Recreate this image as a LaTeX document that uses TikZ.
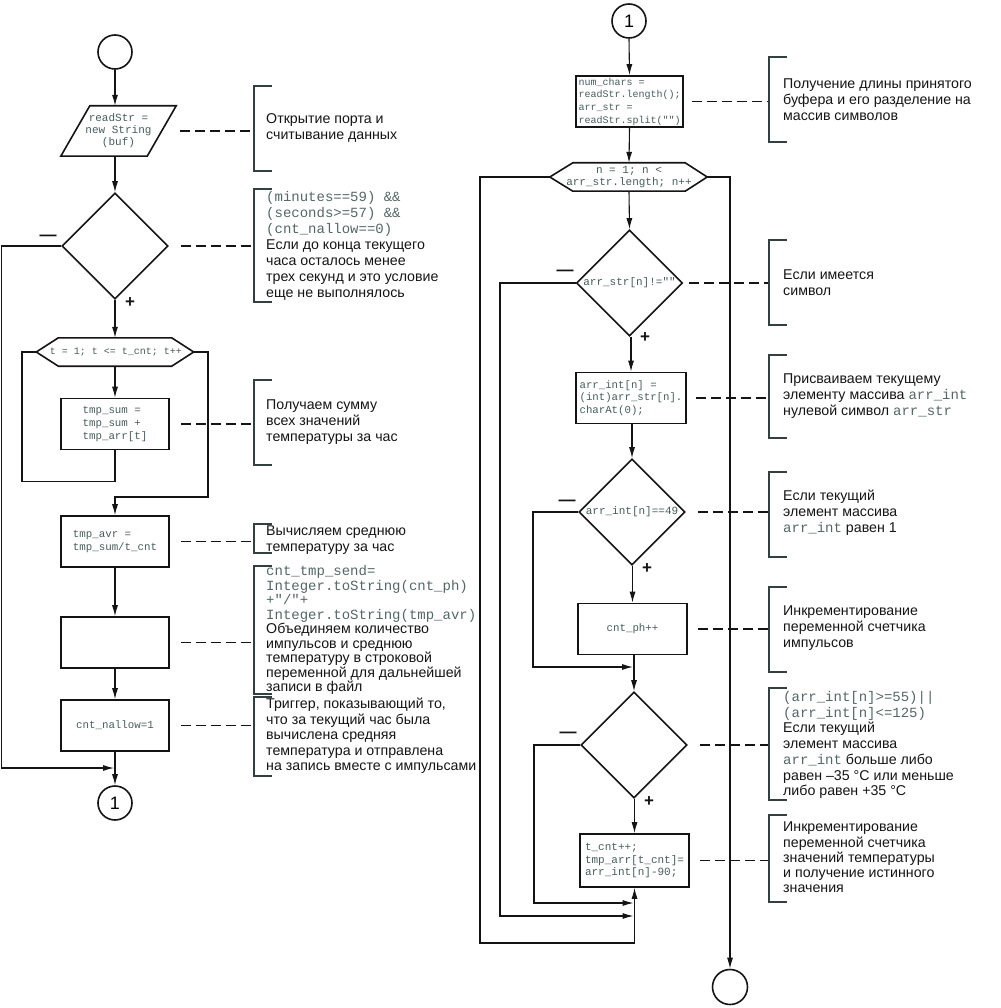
\documentclass[tikz,border=0pt]{standalone}
\usepackage{fontspec}
\setmainfont{Liberation Sans}
\setmonofont{Liberation Mono}
\usetikzlibrary{arrows.meta,shapes.geometric}
\definecolor{codec}{RGB}{72,92,92}
\definecolor{anncode}{RGB}{84,102,102}
\definecolor{brkc}{RGB}{50,64,64}
\definecolor{txtc}{RGB}{20,20,20}
\definecolor{linec}{RGB}{20,20,20}
\newcommand{\cdf}[2]{\fontsize{#1}{#2}\ttfamily}
\newcommand{\ac}[1]{{\fontsize{14}{16}\ttfamily\color{anncode}#1}}
\begin{document}
\begin{tikzpicture}[x=1pt,y=-1pt,
  shp/.style={draw=linec, line width=1.6pt},
  boxn/.style={shp, rectangle, inner sep=0pt, minimum width=#1, minimum height=51pt},
  dia/.style={shp, diamond, aspect=1, inner sep=0pt, minimum width=106pt, minimum height=106pt},
  term/.style={shp, circle, inner sep=0pt, minimum size=34pt, font=\fontsize{18}{18}\selectfont},
  hexb/.style={inner sep=0pt, minimum width=#1, minimum height=28pt},
  code/.style={text=codec, align=left, inner sep=0pt},
  arr/.style={draw=linec, line width=1.1pt, -{Latex[length=11pt,width=6pt]}},
  conn/.style={draw=linec, line width=1.1pt},
  dsh/.style={draw=linec, line width=1.1pt, dash pattern=on 10pt off 5pt},
  brk/.style={draw=brkc, line width=1.3pt},
  ann/.style={anchor=west, inner sep=0pt, align=left, text=txtc, font=\fontsize{14.2}{16}\selectfont},
  sgn/.style={font=\fontsize{17}{17}\selectfont\bfseries, text=linec, inner sep=0pt},
]
\useasboundingbox (0,0) rectangle (1000,1008);

% ================= LEFT COLUMN =================
\node[term] (s1) at (115,52) {};
\node[inner sep=0pt, minimum width=86pt, minimum height=50pt] (p1) at (118.5,131) {};
\draw[shp] ([xshift=14.5pt]p1.north west) -- ([xshift=14.5pt]p1.north east)
  -- ([xshift=-14.5pt]p1.south east) -- ([xshift=-14.5pt]p1.south west) -- cycle;
\node[code, align=center, font=\cdf{11}{12}] (p1t) at (118.5,131) {readStr =\\new String\\(buf)};

\node[dia] (d1) at (115,246) {};
\node[sgn] (m1) at (48,238) {—};
\node[sgn] (q1) at (130,303) {+};

\node[hexb=113pt] (h1) at (115,352) {};
\coordinate (h1w) at ([xshift=-22pt]h1.west);
\coordinate (h1e) at ([xshift=22pt]h1.east);
\draw[shp] (h1.north west) -- (h1.north east) -- (h1e) -- (h1.south east) -- (h1.south west) -- (h1w) -- cycle;
\node[code, font=\cdf{10}{12}] (h1t) at (116,352) {t = 1; t <= t\_cnt; t++};

\node[boxn=108pt, code, font=\cdf{10.8}{13.3}] (b1) at (115,424) {tmp\_sum =\\tmp\_sum +\\tmp\_arr[t]};
\node[boxn=108pt, code, font=\cdf{10.8}{13.3}] (b2) at (115,541.5) {tmp\_avr =\\tmp\_sum/t\_cnt};
\node[boxn=108pt] (b3) at (115,642.5) {};
\node[boxn=108pt, code, font=\cdf{10.8}{13}] (b4) at (115,725.5) {cnt\_nallow=1};
\node[term] (e1) at (115,803) {1};
\coordinate (j1) at (114,768);

\draw[arr] (s1.south) -- (s1.south |- p1.north);
\draw[arr] (p1.south -| d1.north) -- (d1.north);
\draw[arr] (d1.south) -- (h1.north);
\draw[arr] (h1.south) -- (b1.north);
\draw[conn] (b1.south) -- ++(0,31) -| (22,352) -- (h1w);
\draw[arr] (h1e) -| (208,497) -| (b2.north);
\draw[arr] (b2.south) -- (b3.north);
\draw[arr] (b3.south) -- (b4.north);
\draw[arr] (b4.south) -- (e1.north);
\draw[arr] (d1.west) -| (1.5,768) -- (j1);

% left annotations
\coordinate (k1) at (254,131);
\coordinate (k2) at (254,246);
\coordinate (k3) at (254,424);
\coordinate (k4) at (254,541.5);
\coordinate (k5) at (254,642.5);
\coordinate (k6) at (254,725.5);
\draw[dsh] ([xshift=18.5pt]p1.east) -- (k1);
\draw[dsh] ([xshift=12pt]d1.east) -- (k2);
\draw[dsh] ([xshift=11pt]b1.east) -- (k3);
\draw[dsh] ([xshift=11pt]b2.east) -- (k4);
\draw[dsh] ([xshift=11pt]b3.east) -- (k5);
\draw[dsh] ([xshift=11pt]b4.east) -- (k6);

\draw[brk] (272,86) -- (254,86) -- (254,171) -- (272,171);
\draw[brk] (272,189) -- (254,189) -- (254,302) -- (272,302);
\draw[brk] (272,380) -- (254,380) -- (254,465) -- (272,465);
\draw[brk] (272,524) -- (254,524) -- (254,553) -- (272,553);
\draw[brk] (272,566) -- (254,566) -- (254,694) -- (272,694);
\draw[brk] (272,697) -- (254,697) -- (254,776) -- (272,776);

\node[ann] (t1) at (266,127.5) {Открытие порта и\\считывание данных};
\node[ann] (t2) at (266,246) {\ac{(minutes==59) \&\&}\\\ac{(seconds>=57) \&\&}\\\ac{(cnt\_nallow==0)}\\Если до конца текущего\\часа осталось менее\\трех секунд и это условие\\еще не выполнялось};
\node[ann] (t3) at (266,422) {Получаем сумму\\всех значений\\температуры за час};
\node[ann] (t4) at (266,540.5) {Вычисляем среднюю\\температуру за час};
\node[ann, font=\fontsize{14.2}{14.5}\selectfont] (t5) at (266,630) {\ac{cnt\_tmp\_send=}\\\ac{Integer.toString(cnt\_ph)}\\\ac{+"/"+}\\\ac{Integer.toString(tmp\_avr)}\\Объединяем количество\\импульсов и среднюю\\температуру в строковой\\переменной для дальнейшей\\записи в файл};
\node[ann, font=\fontsize{14.2}{15.5}\selectfont] (t6) at (266,736) {Триггер, показывающий то,\\что за текущий час была\\вычислена средняя\\температура и отправлена\\на запись вместе с импульсами};

% ================= RIGHT COLUMN =================
\node[term] (s2) at (629,21) {1};
\node[boxn=107pt, code, font=\cdf{10}{12.7}] (c1) at (629.5,101.5) {num\_chars =\\readStr.length();\\arr\_str =\\readStr.split("")};

\node[hexb=112pt] (h2) at (629,177) {};
\coordinate (h2w) at ([xshift=-23pt]h2.west);
\coordinate (h2e) at ([xshift=22pt]h2.east);
\draw[shp] (h2.north west) -- (h2.north east) -- (h2e) -- (h2.south east) -- (h2.south west) -- (h2w) -- cycle;
\node[code, align=center, font=\cdf{11}{11.5}] (h2t) at (629,177) {n = 1; n <\\arr\_str.length; n++};

\node[dia] (d3) at (629.5,283) {};
\node[code, font=\cdf{11}{13}] (d3t) at (629.5,283) {arr\_str[n]!=""};
\node[sgn] (m3) at (565,273) {—};
\node[sgn] (q3) at (645,338) {+};

\node[boxn=110pt, code, font=\cdf{10.7}{12.5}] (c2) at (631,398) {arr\_int[n] =\\(int)arr\_str[n].\\charAt(0);};

\node[dia] (d4) at (632,512) {};
\node[code, font=\cdf{11}{13}] (d4t) at (632,512) {arr\_int[n]==49};
\node[sgn] (m4) at (567,503) {—};
\node[sgn] (q4) at (647,569) {+};

\node[boxn=109pt, code, font=\cdf{10.8}{13}] (c3) at (632.5,629) {cnt\_ph++};

\node[dia] (d5) at (634,745) {};
\node[sgn] (m5) at (568,735) {—};
\node[sgn] (q5) at (649,802) {+};

\node[boxn=109pt, minimum height=53pt, code, font=\cdf{11}{12.5}] (c4) at (634.5,860.5) {t\_cnt++;\\tmp\_arr[t\_cnt]=\\arr\_int[n]-90;};
\node[term, minimum size=35pt] (e2) at (730,987) {};

\coordinate (j2) at (633,667);
\coordinate (j3) at (633.5,916);
\coordinate (j4) at (633.5,903);

\draw[arr] (s2.south) -- (c1.north);
\draw[arr] (c1.south) -- (h2.north);
\draw[arr] (h2.south) -- (d3.north);
\draw[arr] (c2.north |- d3.south) -- (c2.north);
\draw[arr] (d4.north |- c2.south) -- (d4.north);
\draw[arr] (c3.north |- d4.south) -- (c3.north);
\draw[arr] (d5.north |- c3.south) -- (d5.north);
\draw[arr] (c4.north |- d5.south) -- (c4.north);

\draw[arr] (h2w) -| (480,943) -| (c4.south);
\draw[arr] (h2e) -| (e2.north);
\draw[arr] (d3.west) -| (500,916) -- (j3);
\draw[arr] (d5.west) -| (534,903) -- (j4);
\draw[arr] (d4.west) -| (533,667) -- (j2);

% right annotations
\coordinate (r1) at (769,101.5);
\coordinate (r2) at (769,283);
\coordinate (r3) at (769,398);
\coordinate (r4) at (769,512);
\coordinate (r5) at (769,629);
\coordinate (r6) at (769,745);
\coordinate (r7) at (769,860.5);
\draw[dsh] ([xshift=8pt]c1.east) -- (r1);
\draw[dsh] ([xshift=6pt]d3.east) -- (r2);
\draw[dsh] ([xshift=9pt]c2.east) -- (r3);
\draw[dsh] ([xshift=12pt]d4.east) -- (r4);
\draw[dsh] ([xshift=10pt]c3.east) -- (r5);
\draw[dsh] ([xshift=12pt]d5.east) -- (r6);
\draw[dsh] ([xshift=10pt]c4.east) -- (r7);

\draw[brk] (787,57) -- (769,57) -- (769,142) -- (787,142);
\draw[brk] (787,240) -- (769,240) -- (769,325) -- (787,325);
\draw[brk] (787,355) -- (769,355) -- (769,438) -- (787,438);
\draw[brk] (787,472) -- (769,472) -- (769,557) -- (787,557);
\draw[brk] (787,587) -- (769,587) -- (769,672) -- (787,672);
\draw[brk] (787,688) -- (769,688) -- (769,800) -- (787,800);
\draw[brk] (787,815) -- (769,815) -- (769,902) -- (787,902);

\node[ann] (u1) at (783,99.5) {Получение длины принятого\\буфера и его разделение на\\массив символов};
\node[ann] (u2) at (783,283) {Если имеется\\символ};
\node[ann] (u3) at (783,396) {Присваиваем текущему\\элементу массива \ac{arr\_int}\\нулевой символ \ac{arr\_str}};
\node[ann] (u4) at (783,513) {Если текущий\\элемент массива\\\ac{arr\_int} равен 1};
\node[ann] (u5) at (783,628) {Инкрементирование\\переменной счетчика\\импульсов};
\node[ann, font=\fontsize{14.2}{15.7}\selectfont] (u6) at (783,745) {\ac{(arr\_int[n]>=55)||}\\\ac{(arr\_int[n]<=125)}\\Если текущий\\элемент массива\\\ac{arr\_int} больше либо\\равен –35 °C или меньше\\либо равен +35 °C};
\node[ann, font=\fontsize{14.2}{15.3}\selectfont] (u7) at (783,857.5) {Инкрементирование\\переменной счетчика\\значений температуры\\и получение истинного\\значения};
\end{tikzpicture}
\end{document}
